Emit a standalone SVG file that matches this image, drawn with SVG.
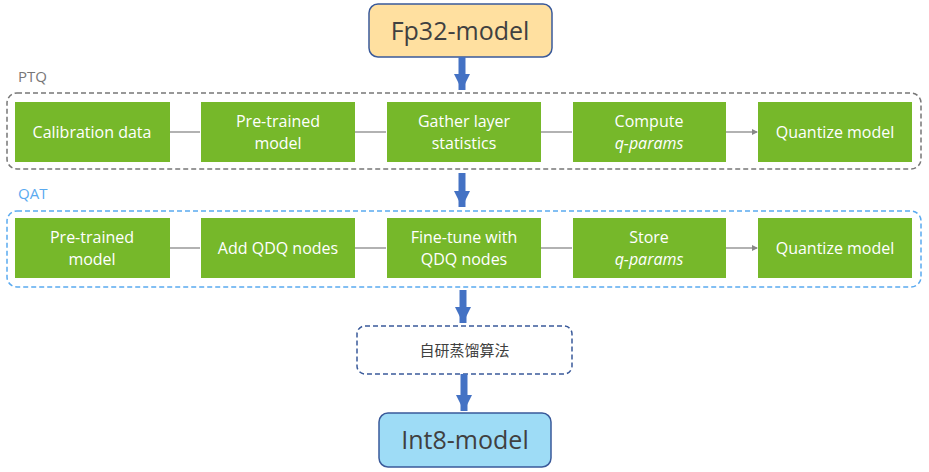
<svg xmlns="http://www.w3.org/2000/svg" width="929" height="472" viewBox="0 0 929 472">
<style>
.g{fill:#76b82a}
.t{font-family:"Open Sans","Liberation Sans",sans-serif;font-size:16px;fill:#fff;text-anchor:middle}
.big{font-family:"Open Sans","Liberation Sans",sans-serif;font-size:25px;fill:#404040;text-anchor:middle}
.thin{stroke:#999;stroke-width:1.5;fill:none}
.blue{stroke:#4472c4;stroke-width:7;fill:none}
</style>
<defs>
<marker id="sa" markerWidth="6" markerHeight="6" refX="5" refY="3" orient="auto" markerUnits="userSpaceOnUse"><path d="M0,0L6,3L0,6z" fill="#888"/></marker>
<marker id="ba" markerWidth="18" markerHeight="16" refX="16" refY="8" orient="auto" markerUnits="userSpaceOnUse"><path d="M0,0L16,8L0,16z" fill="#4472c4"/></marker>
</defs>
<g id="fp32"><rect x="369" y="4" width="183" height="53" rx="9" fill="#ffe0a0" stroke="#3a5a9a" stroke-width="1.5"/><text class="big" x="460" y="40">Fp32-model</text></g>
<g id="ptq"><rect x="7" y="93" width="914" height="76" rx="10" fill="none" stroke="#777" stroke-width="1.5" stroke-dasharray="5,3"/><text x="18" y="82" font-family="Open Sans,sans-serif" font-size="15" fill="#777">PTQ</text></g>
<g id="qat"><rect x="7" y="211" width="914" height="76" rx="10" fill="none" stroke="#5aaaf0" stroke-width="1.5" stroke-dasharray="5,3"/><text x="18" y="199" font-family="Open Sans,sans-serif" font-size="15" fill="#5aaaf0">QAT</text></g>
<g id="p1"><rect class="g" x="15" y="102" width="155" height="60"/><text class="t" x="92" y="138">Calibration data</text></g>
<g id="p2"><rect class="g" x="201" y="102" width="154" height="60"/><text class="t" x="278" y="127">Pre-trained</text><text class="t" x="278" y="149">model</text></g>
<g id="p3"><rect class="g" x="387" y="102" width="154" height="60"/><text class="t" x="464" y="127">Gather layer</text><text class="t" x="464" y="149">statistics</text></g>
<g id="p4"><rect class="g" x="573" y="102" width="153" height="60"/><text class="t" x="649" y="127">Compute</text><text class="t" x="649" y="149" font-style="italic">q-params</text></g>
<g id="p5"><rect class="g" x="758" y="102" width="154" height="60"/><text class="t" x="835" y="138">Quantize model</text></g>
<g id="q1"><rect class="g" x="15" y="218" width="155" height="60"/><text class="t" x="92" y="243">Pre-trained</text><text class="t" x="92" y="265">model</text></g>
<g id="q2"><rect class="g" x="201" y="218" width="154" height="60"/><text class="t" x="278" y="254">Add QDQ nodes</text></g>
<g id="q3"><rect class="g" x="387" y="218" width="154" height="60"/><text class="t" x="464" y="243">Fine-tune with</text><text class="t" x="464" y="265">QDQ nodes</text></g>
<g id="q4"><rect class="g" x="573" y="218" width="153" height="60"/><text class="t" x="649" y="243">Store</text><text class="t" x="649" y="265" font-style="italic">q-params</text></g>
<g id="q5"><rect class="g" x="758" y="218" width="154" height="60"/><text class="t" x="835" y="254">Quantize model</text></g>
<g id="distill"><rect x="357" y="326" width="215" height="48" rx="8" fill="#fff" stroke="#3a5a9a" stroke-width="1.5" stroke-dasharray="5,3"/><text x="464.5" y="356" text-anchor="middle" font-family="Noto Sans CJK SC,sans-serif" font-size="15" fill="#404040">自研蒸馏算法</text></g>
<g id="int8"><rect x="379" y="413" width="172" height="54" rx="9" fill="#9edcf6" stroke="#3a5a9a" stroke-width="1.5"/><text class="big" x="465" y="449">Int8-model</text></g>
<g id="connectors">
<path class="thin" marker-end="url(#sa)" d="M170,132H200M355,132H386M541,132H572M726,132H757"/>
<path class="thin" marker-end="url(#sa)" d="M170,248H200M355,248H386M541,248H572M726,248H757"/>
<line class="blue" x1="462" y1="57" x2="462" y2="90" marker-end="url(#ba)"/>
<line class="blue" x1="462" y1="173" x2="462" y2="207" marker-end="url(#ba)"/>
<line class="blue" x1="463" y1="290" x2="463" y2="323" marker-end="url(#ba)"/>
<line class="blue" x1="464" y1="374" x2="464" y2="411" marker-end="url(#ba)"/>
</g>
</svg>
